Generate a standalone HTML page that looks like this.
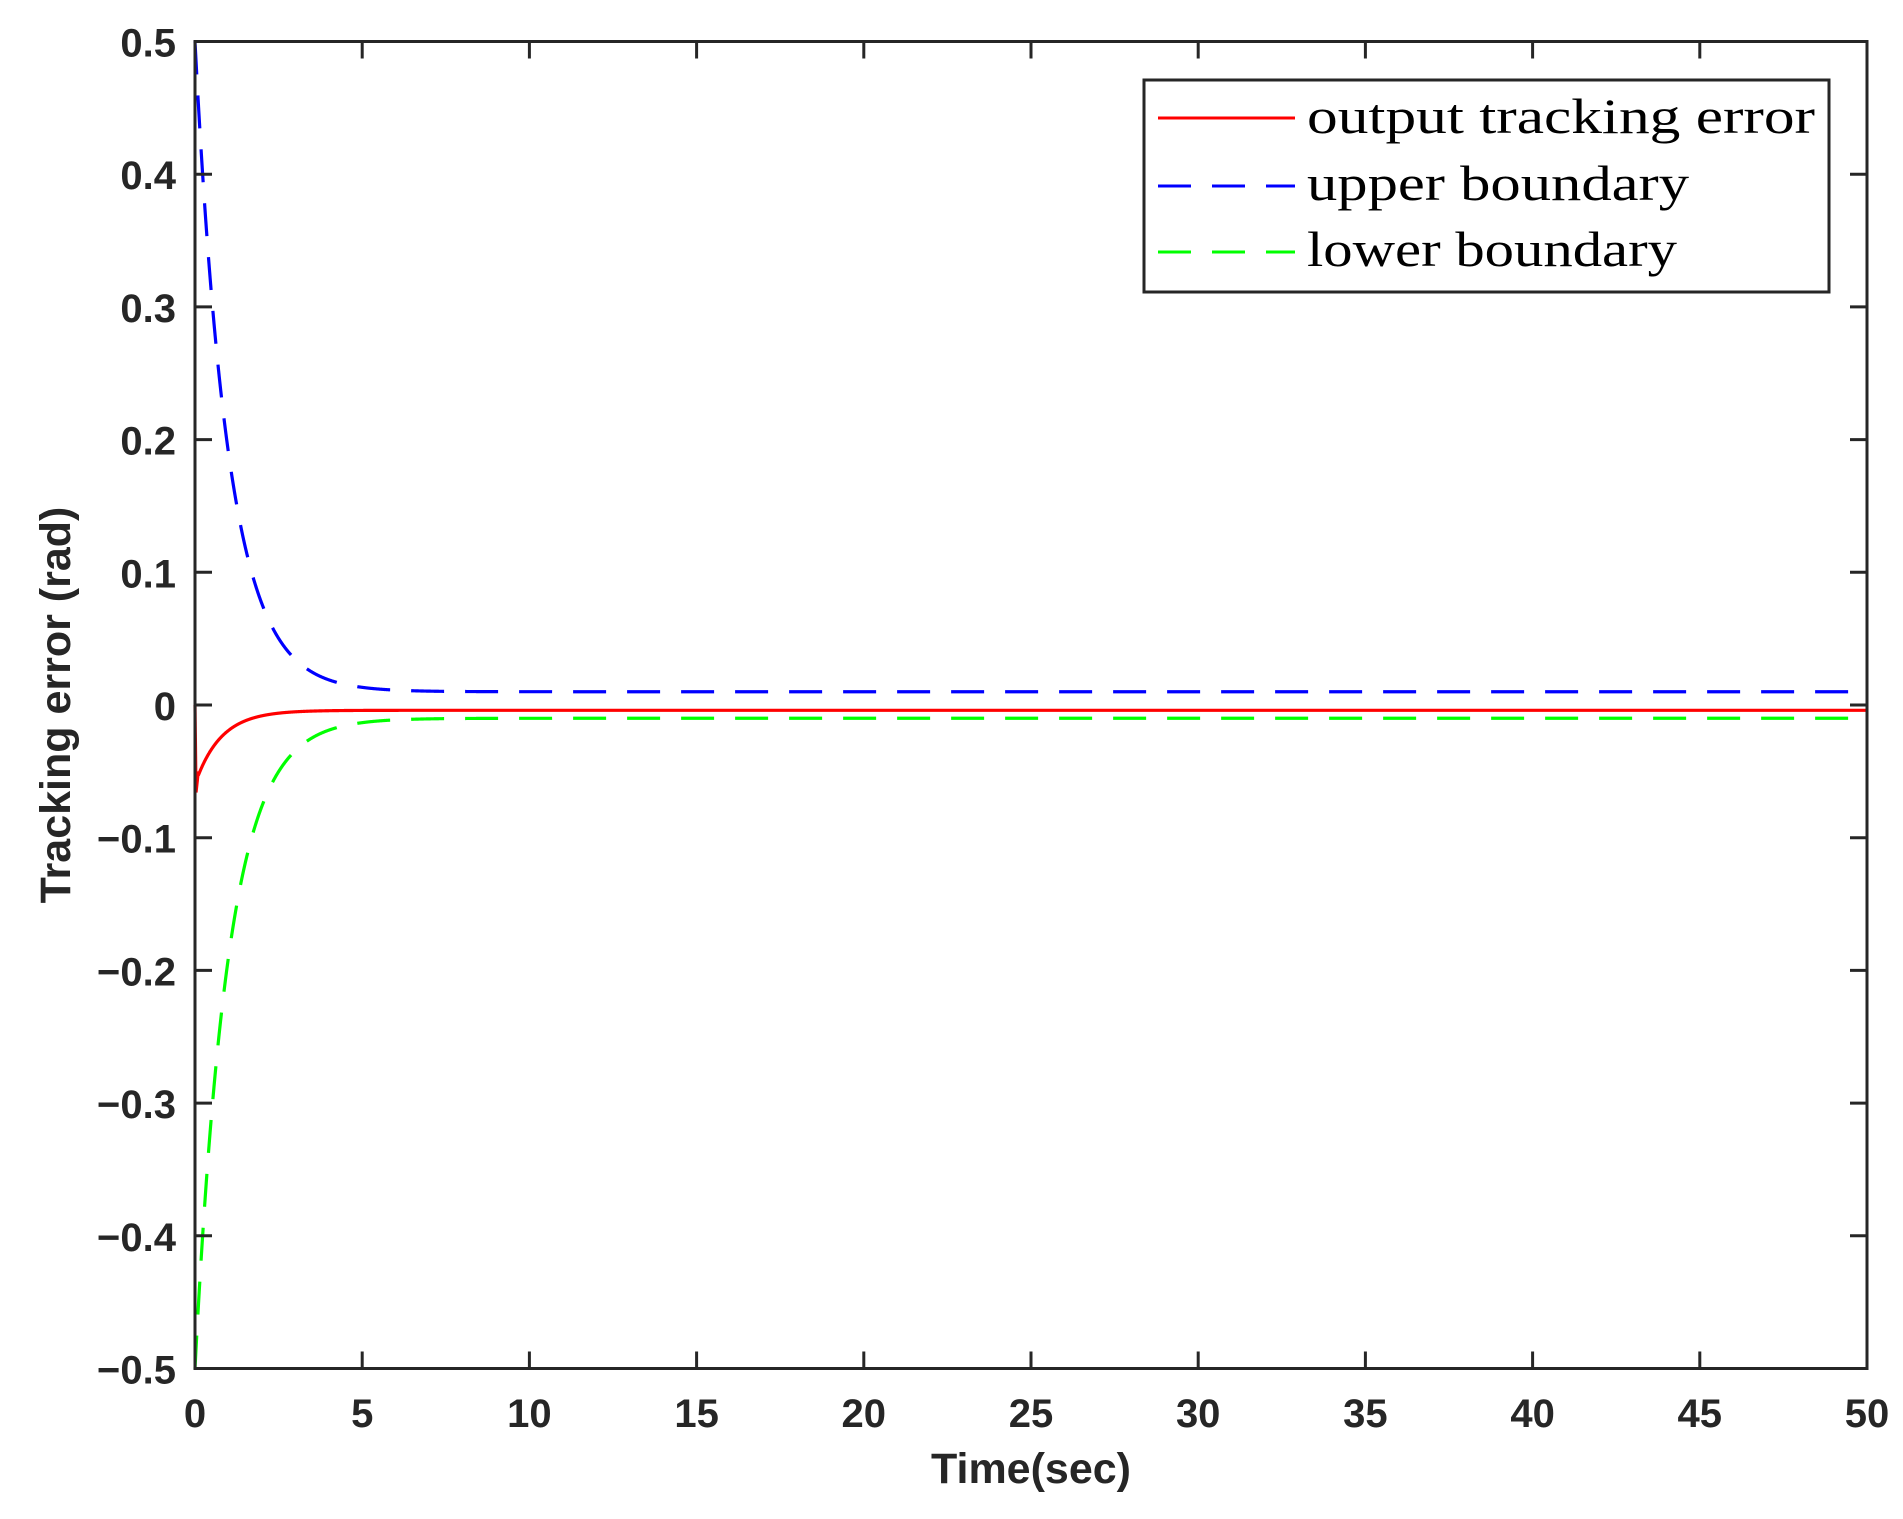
<!DOCTYPE html>
<html><head><meta charset="utf-8"><style>html,body{margin:0;padding:0;background:#fff}svg{display:block}</style></head>
<body>
<svg id="s" width="1903" height="1519" xmlns="http://www.w3.org/2000/svg" font-family="Liberation Sans, sans-serif" fill="#262626">
<rect width="1903" height="1519" fill="#fff"/>
<g id="series"></g>
<g id="ax" stroke="#262626" stroke-width="3" fill="none"></g>
<g id="lab" font-size="40" font-weight="bold" fill="#262626"></g>
<text x="1031" y="1483" font-size="43" font-weight="bold" text-anchor="middle" fill="#262626">Time(sec)</text>
<text transform="translate(70,705) rotate(-90)" font-size="43" font-weight="bold" text-anchor="middle" fill="#262626">Tracking error (rad)</text>
<rect x="1144" y="80" width="685" height="212" fill="#fff" stroke="#262626" stroke-width="3"/>
<line x1="1158" y1="118" x2="1295" y2="118" stroke="#ff0000" stroke-width="3"/>
<line x1="1158" y1="186" x2="1295" y2="186" stroke="#0000ff" stroke-width="3" stroke-dasharray="33 21"/>
<line x1="1158" y1="252" x2="1295" y2="252" stroke="#00ff00" stroke-width="3" stroke-dasharray="33 21"/>
<g font-family="Liberation Serif, serif" font-size="50" fill="#000">
<text x="1307" y="133" textLength="508" lengthAdjust="spacingAndGlyphs">output tracking error</text>
<text x="1307" y="200" textLength="382" lengthAdjust="spacingAndGlyphs">upper boundary</text>
<text x="1307" y="266" textLength="370" lengthAdjust="spacingAndGlyphs">lower boundary</text>
</g>
</svg>
<script>
const L=195,R=1867,T=41.5,B=1368.5;
const X=t=>L+(R-L)*t/50, Y=v=>T+(0.5-v)*(B-T);
const ns="http://www.w3.org/2000/svg";
function el(p,n,a,txt){const e=document.createElementNS(ns,n);for(const k in a)e.setAttribute(k,a[k]);if(txt!==undefined)e.textContent=txt;p.appendChild(e);return e;}
const ser=document.getElementById('series'),ax=document.getElementById('ax'),lab=document.getElementById('lab');
function path(f,col,dash){let d="";for(let i=0;i<=4000;i++){const t=50*Math.pow(i/4000,1.6);d+=(i?"L":"M")+X(t).toFixed(2)+","+Y(f(t)).toFixed(2);}
 const a={d:d,stroke:col,"stroke-width":3.2,fill:"none"};if(dash)a["stroke-dasharray"]=dash;el(ser,"path",a);}
path(t=>0.49*Math.exp(-t)+0.01,"#0000ff","33 21");
path(t=>-(0.49*Math.exp(-t)+0.01),"#00ff00","33 21");
path(t=>{if(t<0.03)return -0.066*(t/0.03);if(t<0.1)return -0.066+0.016*(t-0.03)/0.07;return -0.004-0.049*Math.exp(-1.3*(t-0.1));},"#ff0000");
el(ax,"rect",{x:L,y:T,width:R-L,height:B-T});
for(let i=0;i<=10;i++){const x=X(i*5);
 el(ax,"line",{x1:x,y1:B,x2:x,y2:B-17});el(ax,"line",{x1:x,y1:T,x2:x,y2:T+17});
 el(lab,"text",{x:x,y:1427,"text-anchor":"middle"},String(i*5));}
for(let i=0;i<=10;i++){const v=0.5-i*0.1,y=Y(v);
 el(ax,"line",{x1:L,y1:y,x2:L+17,y2:y});el(ax,"line",{x1:R,y1:y,x2:R-17,y2:y});
 let s=Math.abs(v)<1e-9?"0":(v<0?"\u2212":"")+Math.abs(v).toFixed(1);
 el(lab,"text",{x:176,y:y+15,"text-anchor":"end"},s);}
</script>
</body></html>
